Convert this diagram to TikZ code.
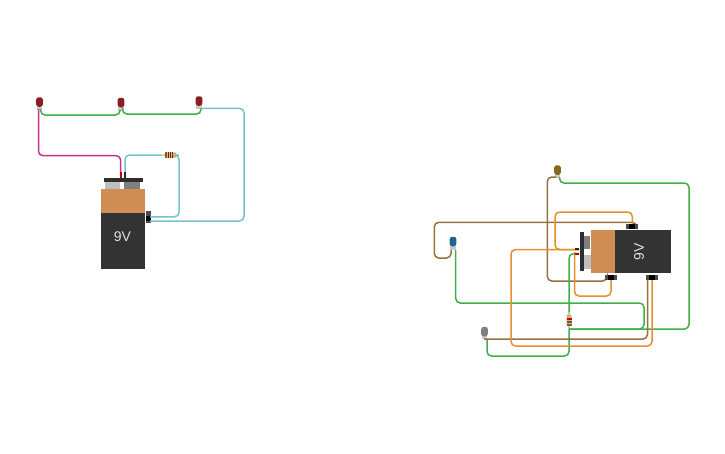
\documentclass[tikz,border=0pt]{standalone}
\usepackage{fontspec}
\setmainfont{Liberation Sans}
\definecolor{wgreen}{HTML}{3DB04A}
\definecolor{wcyan}{HTML}{74C4CE}
\definecolor{wbrown}{HTML}{96703F}
\definecolor{wmag}{HTML}{C92F92}
\definecolor{worange}{HTML}{E88F2C}
\definecolor{batorange}{HTML}{D18E54}
\definecolor{batdark}{HTML}{333333}
\definecolor{ledred}{HTML}{8A1C22}
\definecolor{ledolive}{HTML}{846A1C}
\definecolor{ledblue}{HTML}{1F6390}
\definecolor{ledgray}{HTML}{808080}
\definecolor{restan}{HTML}{D9B36C}
\definecolor{resbrown}{HTML}{8A5A2B}
\tikzset{
  wire/.style={line width=1.5pt,rounded corners=4.5pt},
  ledbody/.style={draw=none,rounded corners=2.6pt,minimum width=6.8pt,minimum height=9.5pt,inner sep=0pt},
  ledleg/.style={draw=none,fill=black!22,minimum width=5.5pt,minimum height=4pt,inner sep=0pt},
  resleg/.style={draw=none,fill=black!22,inner sep=0pt},
  resbody/.style={draw=none,fill=restan,inner sep=0pt,rounded corners=0.8pt},
  bat/.style={draw=none,inner sep=0pt,anchor=north west},
  voltlabel/.style={text=white!88!black,font=\fontsize{14}{14}\selectfont,inner sep=0pt}
}
\begin{document}
\begin{tikzpicture}[x=1pt,y=-1pt]
\useasboundingbox (0,0) rectangle (725,453);
% ---------- LEDs
\node[ledleg] (legA) at (39.5,108) {};
\node[ledbody,fill=ledred] (ledA) at (39.5,102) {};
\node[ledleg] (legB) at (121,109) {};
\node[ledbody,fill=ledred] (ledB) at (121,102.5) {};
\node[ledleg] (legC) at (199,107) {};
\node[ledbody,fill=ledred] (ledC) at (199,101) {};
\node[ledleg] (legD) at (557.5,176) {};
\node[ledbody,fill=ledolive] (ledD) at (557.5,170) {};
\node[ledleg] (legE) at (453,248) {};
\node[ledbody,fill=ledblue] (ledE) at (453,241.5) {};
\node[ledleg] (legF) at (484.5,337) {};
\node[ledbody,fill=ledgray] (ledF) at (484.5,331.5) {};
\coordinate (legA1) at (38.5,109);
\coordinate (legA2) at (40.5,109);
\coordinate (legB1) at (120,110);
\coordinate (legB2) at (122.5,110);
\coordinate (legC1) at (201,108.3);
\coordinate (legC2) at (201.5,108.3);
\coordinate (legD1) at (556,177);
\coordinate (legD2) at (559.5,177);
\coordinate (legE1) at (451,250);
\coordinate (legE2) at (455.7,250);
\coordinate (legF1) at (484,339);
\coordinate (legF2) at (487,339);
% ---------- Left battery
\node[bat,fill=batorange,minimum width=43.7pt,minimum height=24pt] (batA) at (101,189) {};
\node[bat,fill=batdark,minimum width=43.7pt,minimum height=56pt] (batAd) at (101,213) {};
\node[voltlabel] (txtA) at (122.5,237) {9V};
\node[bat,fill=black!25,minimum width=15pt,minimum height=7pt] (tA1) at (105,182) {};
\node[bat,fill=black!50,minimum width=16pt,minimum height=7pt] (tA2) at (124,182) {};
\node[bat,fill=black!82,minimum width=39.5pt,minimum height=3.8pt] (barA) at (103.3,178) {};
\node[bat,fill=black!70,minimum width=4.3pt,minimum height=11.5pt] (clipA) at (146,211) {};
\node[bat,fill=black,minimum width=4.3pt,minimum height=5pt] (clipAb) at (146,216) {};
\coordinate (clipA1) at (150,216.8);
\coordinate (clipA2) at (150,221);
\coordinate (pAp) at (120.7,177);
\coordinate (pAn) at (125,177);
% ---------- Left resistor
\node[resleg,minimum width=16pt,minimum height=1.5pt] (resAleg) at (170.5,155) {};
\node[resbody,minimum width=11pt,minimum height=5.5pt] (resA) at (170.5,155) {};
\fill[resbrown] (165.2,152.3) rectangle (166.6,157.7);
\fill[red!70!black] (168,152.3) rectangle (169.2,157.7);
\fill[black!75] (170,152.3) rectangle (171.2,157.7);
\fill[red!70!black] (172,152.3) rectangle (173.2,157.7);
% ---------- Left wires
\draw[wire,wgreen] (legA2) -- (40.5,115) -- (120,115) -- (legB1);
\draw[wire,wgreen] (legB2) -- (122.5,114) -- (201,114) -- (legC1);
\draw[wire,wmag] (legA1) -- (38.5,155.7) -- (120.7,155.7) -- (pAp);
\draw[wire,wcyan] (pAn) -- (125,155) -- (resAleg.west);
\draw[wire,wcyan] (resAleg.east) -- (179,155) -- (179,216.8) -- (clipA1);
\draw[wire,wcyan] (legC2) -- (244,108.3) -- (244,221) -- (clipA2);
\fill[red!75!black] (119.6,172) rectangle (121.8,178);
\fill[black!85] (123.9,172) rectangle (126.1,178);
% ---------- Right battery
\node[bat,fill=batorange,minimum width=24pt,minimum height=43pt] (batB) at (591,230) {};
\node[bat,fill=batdark,minimum width=56pt,minimum height=43pt] (batBd) at (615,230) {};
\node[voltlabel,rotate=90] (txtB) at (639,252) {9V};
\node[bat,fill=black!50,minimum width=6pt,minimum height=13pt] (tB1) at (584,235.5) {};
\node[bat,fill=black!25,minimum width=7pt,minimum height=14pt] (tB2) at (584,255) {};
\node[bat,fill=black!82,minimum width=4pt,minimum height=39pt] (barB) at (580,232) {};
\coordinate (pBn) at (579,249.5);
\coordinate (pBp) at (579,253.7);
\coordinate (cT1) at (632.3,225);
\coordinate (cT2) at (636.5,225);
\coordinate (cL1) at (607,278);
\coordinate (cL2) at (611,278);
\coordinate (cR1) at (647.5,278);
\coordinate (cR2) at (652,278);
% ---------- Right resistor
\node[resleg,minimum width=1.5pt,minimum height=17pt] (resBleg) at (569,320) {};
\node[resbody,minimum width=5pt,minimum height=11pt] (resB) at (569,320) {};
\fill[red!80!black] (566.5,317.5) rectangle (571.5,319.5);
\fill[black!65] (566.5,320.5) rectangle (571.5,323);
\fill[resbrown] (566.5,324) rectangle (571.5,325.5);
\coordinate (resBb) at (569,329);
\coordinate (resBt) at (569,312);
% ---------- Right wires
\draw[wire,wbrown] (legD1) -- (547.3,177) -- (547.3,281) -- (607,281) -- (cL1);
\draw[wire,wgreen] (legD2) -- (559.5,183) -- (689,183) -- (689,329) -- (resBb);
\draw[wire,wgreen] (legE2) -- (455.7,303) -- (644,303) -- (644,329) -- (resBb);
\draw[wire,wbrown] (legE1) -- (451,258) -- (434.3,258) -- (434.3,222.3) -- (636.5,222.3) -- (cT2);
\draw[wire,wgreen] (legF2) -- (487,356) -- (569,356) -- (resBb);
\draw[wire,wgreen] (resBt) -- (569,253.7) -- (pBp);
\draw[wire,wbrown] (legF1) -- (647.5,339) -- (cR1);
\draw[wire,worange] (pBn) -- (511,249.5) -- (511,346) -- (652,346) -- (cR2);
\draw[wire,worange] (pBn) -- (555,249.5) -- (555,212) -- (632.3,212) -- (cT1);
\draw[wire,worange] (574.5,252) -- (574.5,296) -- (611,296) -- (cL2);
\fill[black!85] (575,248.2) rectangle (579,250.4);
\fill[red!70!black] (575,252.6) rectangle (579,254.8);
% clips drawn above wires
\node[bat,fill=black!70,minimum width=12pt,minimum height=4.5pt] (clipT) at (626,224) {};
\node[bat,fill=black,minimum width=6pt,minimum height=4.5pt] (clipTi) at (629,224) {};
\node[bat,fill=black!70,minimum width=12pt,minimum height=4.5pt] (clipL) at (605,275) {};
\node[bat,fill=black,minimum width=6pt,minimum height=4.5pt] (clipLi) at (608,275) {};
\node[bat,fill=black!70,minimum width=12pt,minimum height=4.5pt] (clipR) at (646,275) {};
\node[bat,fill=black,minimum width=6pt,minimum height=4.5pt] (clipRi) at (649,275) {};
\end{tikzpicture}
\end{document}
